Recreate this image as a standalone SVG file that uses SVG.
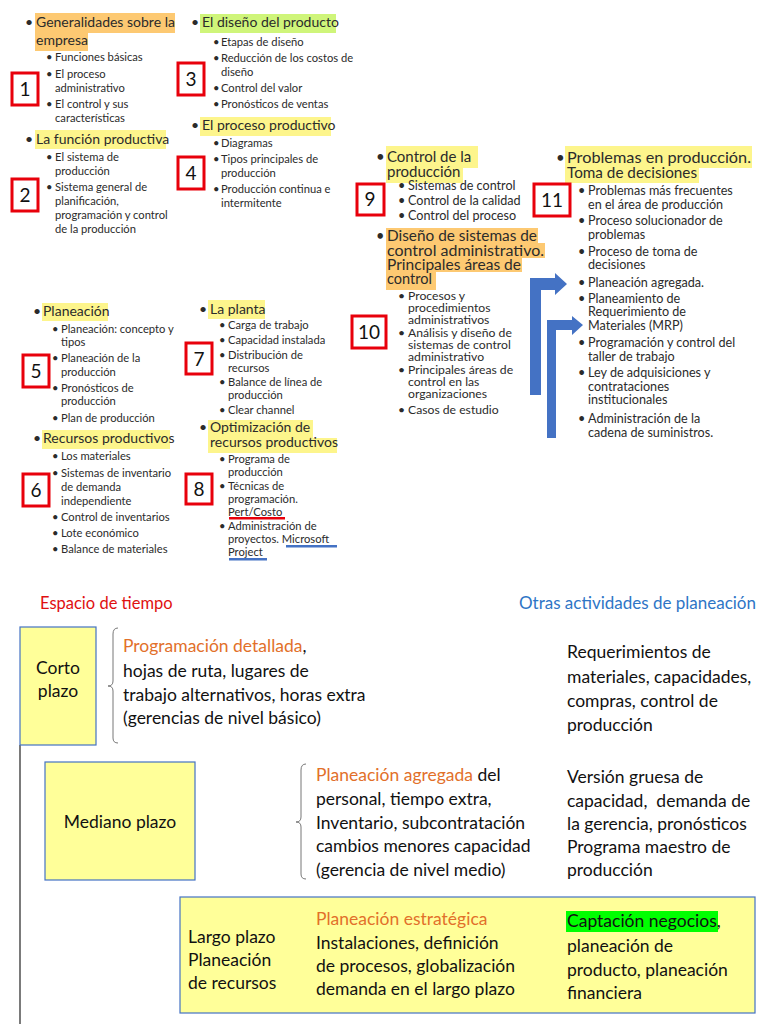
<svg xmlns="http://www.w3.org/2000/svg" width="768" height="1024" viewBox="0 0 768 1024">
<style>
text{font-family:Lato,"Liberation Sans",sans-serif;fill:#2b2b2b}
.h{font-size:14px}
.h2{font-size:15px}
.h3{font-size:14.5px}
.s{font-size:11.2px}
.s2{font-size:12.6px}
.s3{font-size:12.2px}
.bx{fill:#fff;stroke:#e8000b;stroke-width:3}
.num{font-size:19px;fill:#111;text-anchor:middle}
.hy{fill:#fdf58c}
.ho{fill:#fdc972}
.hg{fill:#cff57a}
.b{font-size:17.5px;fill:#111}
.or{fill:#e2702a}
.yb{fill:#ffff99;stroke:#4472c4;stroke-width:1.2}
.br{fill:none;stroke:#777;stroke-width:1}
.arr{fill:#4472c4}
</style>

<!-- Section 1-2 -->
<g id="sec1">
<rect class="ho" x="35" y="13" width="140" height="20"/>
<rect class="ho" x="35" y="33" width="53" height="18"/>
<text class="h" x="25" y="27">•</text>
<text class="h" x="36" y="27">Generalidades sobre la</text>
<text class="h" x="36" y="45">empresa</text>
<g class="s">
<text x="46" y="61">•</text><text x="55" y="61">Funciones básicas</text>
<text x="46" y="78">•</text><text x="55" y="78">El proceso</text>
<text x="55" y="92">administrativo</text>
<text x="46" y="108">•</text><text x="55" y="108">El control y sus</text>
<text x="55" y="122">características</text>
</g>
<rect class="bx" x="12" y="73" width="26" height="32"/>
<text class="num" x="25" y="96">1</text>
</g>
<g id="sec2">
<rect class="hy" x="35" y="130" width="131" height="19"/>
<text class="h" x="25" y="144">•</text>
<text class="h" x="36" y="144">La función productiva</text>
<g class="s">
<text x="46" y="161">•</text><text x="55" y="161">El sistema de</text>
<text x="55" y="175">producción</text>
<text x="46" y="191">•</text><text x="55" y="191">Sistema general de</text>
<text x="55" y="205">planificación,</text>
<text x="55" y="219">programación y control</text>
<text x="55" y="233">de la producción</text>
</g>
<rect class="bx" x="12" y="179" width="26" height="32"/>
<text class="num" x="25" y="202">2</text>
</g>

<!-- Section 3-4 -->
<g id="sec3">
<rect class="hg" x="200" y="14" width="136" height="19"/>
<text class="h" x="191" y="27">•</text>
<text class="h" x="202" y="27">El diseño del producto</text>
<g class="s">
<text x="213" y="46">•</text><text x="221" y="46">Etapas de diseño</text>
<text x="213" y="62">•</text><text x="221" y="62">Reducción de los costos de</text>
<text x="221" y="76">diseño</text>
<text x="213" y="92">•</text><text x="221" y="92">Control del valor</text>
<text x="213" y="108">•</text><text x="221" y="108">Pronósticos de ventas</text>
</g>
<rect class="bx" x="178" y="63" width="26" height="32"/>
<text class="num" x="191" y="86">3</text>
</g>
<g id="sec4">
<rect class="hy" x="200" y="117" width="131" height="19"/>
<text class="h" x="191" y="130">•</text>
<text class="h" x="202" y="130">El proceso productivo</text>
<g class="s">
<text x="213" y="147">•</text><text x="221" y="147">Diagramas</text>
<text x="213" y="163">•</text><text x="221" y="163">Tipos principales de</text>
<text x="221" y="177">producción</text>
<text x="213" y="193">•</text><text x="221" y="193">Producción continua e</text>
<text x="221" y="207">intermitente</text>
</g>
<rect class="bx" x="178" y="157" width="26" height="32"/>
<text class="num" x="191" y="180">4</text>
</g>

<!-- Section 9-10 -->
<g id="sec9">
<rect class="hy" x="386" y="146" width="92" height="22"/>
<rect class="hy" x="386" y="168" width="77" height="15"/>
<text class="h2" x="376" y="162">•</text>
<text class="h2" x="387" y="162">Control de la</text>
<text class="h2" x="387" y="177">producción</text>
<g class="s2">
<text x="398" y="190">•</text><text x="408" y="190">Sistemas de control</text>
<text x="398" y="205">•</text><text x="408" y="205">Control de la calidad</text>
<text x="398" y="220">•</text><text x="408" y="220">Control del proceso</text>
</g>
<rect class="bx" x="357" y="184" width="27" height="31"/>
<text class="num" x="370" y="206">9</text>
</g>
<g id="sec10">
<rect class="ho" x="386" y="228" width="152" height="15"/>
<rect class="ho" x="386" y="243" width="159" height="15"/>
<rect class="ho" x="386" y="258" width="136" height="14"/>
<rect class="ho" x="386" y="272" width="50" height="18"/>
<text class="h3" x="376" y="241">•</text>
<g class="h3">
<text x="387" y="241" textLength="150" lengthAdjust="spacingAndGlyphs">Diseño de sistemas de</text>
<text x="387" y="256" textLength="157" lengthAdjust="spacingAndGlyphs">control administrativo.</text>
<text x="387" y="270" textLength="134" lengthAdjust="spacingAndGlyphs">Principales áreas de</text>
<text x="387" y="284">control</text>
</g>
<g class="s3">
<text x="398" y="300">•</text><text x="408" y="300">Procesos y</text>
<text x="408" y="312">procedimientos</text>
<text x="408" y="324">administrativos</text>
<text x="398" y="337">•</text><text x="408" y="337">Análisis y diseño de</text>
<text x="408" y="349">sistemas de control</text>
<text x="408" y="361">administrativo</text>
<text x="398" y="374">•</text><text x="408" y="374">Principales áreas de</text>
<text x="408" y="386">control en las</text>
<text x="408" y="398">organizaciones</text>
<text x="398" y="414">•</text><text x="408" y="414">Casos de estudio</text>
</g>
<rect class="bx" x="352" y="316" width="34" height="32"/>
<text class="num" x="369" y="339">10</text>
</g>

<!-- Section 11 -->
<g id="sec11">
<rect class="hy" x="565" y="146" width="187" height="22"/>
<rect class="hy" x="565" y="168" width="134" height="15"/>
<text class="h2" x="556" y="163">•</text>
<text class="h2" x="567" y="163" textLength="184" lengthAdjust="spacingAndGlyphs">Problemas en producción.</text>
<text class="h2" x="567" y="178" textLength="130" lengthAdjust="spacingAndGlyphs">Toma de decisiones</text>
<g class="s2">
<text x="578" y="195">•</text><text x="588" y="195">Problemas más frecuentes</text>
<text x="588" y="209">en el área de producción</text>
<text x="578" y="225">•</text><text x="588" y="225">Proceso solucionador de</text>
<text x="588" y="239">problemas</text>
<text x="578" y="256">•</text><text x="588" y="256">Proceso de toma de</text>
<text x="588" y="269">decisiones</text>
<text x="578" y="287">•</text><text x="588" y="287">Planeación agregada.</text>
<text x="578" y="303">•</text><text x="588" y="303">Planeamiento de</text>
<text x="588" y="316">Requerimiento de</text>
<text x="588" y="330">Materiales (MRP)</text>
<text x="578" y="347">•</text><text x="588" y="347">Programación y control del</text>
<text x="588" y="361">taller de trabajo</text>
<text x="578" y="377">•</text><text x="588" y="377">Ley de adquisiciones y</text>
<text x="588" y="391">contrataciones</text>
<text x="588" y="404">institucionales</text>
<text x="578" y="423">•</text><text x="588" y="423">Administración de la</text>
<text x="588" y="437">cadena de suministros.</text>
</g>
<rect class="bx" x="534" y="184" width="36" height="32"/>
<text class="num" x="552" y="207">11</text>
</g>

<!-- Section 5-6 -->
<g id="sec5">
<rect class="hy" x="42" y="303" width="66" height="18"/>
<text class="h" x="33" y="316">•</text>
<text class="h" x="43" y="316">Planeación</text>
<g class="s">
<text x="52" y="333">•</text><text x="61" y="333">Planeación: concepto y</text>
<text x="61" y="346">tipos</text>
<text x="52" y="362">•</text><text x="61" y="362">Planeación de la</text>
<text x="61" y="376">producción</text>
<text x="52" y="392">•</text><text x="61" y="392">Pronósticos de</text>
<text x="61" y="405">producción</text>
<text x="52" y="422">•</text><text x="61" y="422">Plan de producción</text>
</g>
<rect class="bx" x="23" y="355" width="26" height="32"/>
<text class="num" x="36" y="378">5</text>
</g>
<g id="sec6">
<rect class="hy" x="42" y="430" width="128" height="19"/>
<text class="h" x="33" y="443">•</text>
<text class="h" x="43" y="443">Recursos productivos</text>
<g class="s">
<text x="52" y="460">•</text><text x="61" y="460">Los materiales</text>
<text x="52" y="477">•</text><text x="61" y="477">Sistemas de inventario</text>
<text x="61" y="491">de demanda</text>
<text x="61" y="505">independiente</text>
<text x="52" y="521">•</text><text x="61" y="521">Control de inventarios</text>
<text x="52" y="537">•</text><text x="61" y="537">Lote económico</text>
<text x="52" y="553">•</text><text x="61" y="553">Balance de materiales</text>
</g>
<rect class="bx" x="23" y="474" width="26" height="32"/>
<text class="num" x="36" y="497">6</text>
</g>

<!-- Section 7-8 -->
<g id="sec7">
<rect class="hy" x="208" y="300" width="57" height="19"/>
<text class="h" x="199" y="314">•</text>
<text class="h" x="210" y="314">La planta</text>
<g class="s">
<text x="219" y="329">•</text><text x="228" y="329">Carga de trabajo</text>
<text x="219" y="344">•</text><text x="228" y="344">Capacidad instalada</text>
<text x="219" y="359">•</text><text x="228" y="359">Distribución de</text>
<text x="228" y="372">recursos</text>
<text x="219" y="386">•</text><text x="228" y="386">Balance de línea de</text>
<text x="228" y="399">producción</text>
<text x="219" y="414">•</text><text x="228" y="414">Clear channel</text>
</g>
<rect class="bx" x="186" y="343" width="26" height="31"/>
<text class="num" x="199" y="366">7</text>
</g>
<g id="sec8">
<rect class="hy" x="208" y="420" width="105" height="18"/>
<rect class="hy" x="208" y="438" width="129" height="15"/>
<text class="h" x="199" y="432">•</text>
<text class="h" x="210" y="432">Optimización de</text>
<text class="h" x="210" y="447">recursos productivos</text>
<g class="s">
<text x="219" y="463">•</text><text x="228" y="463">Programa de</text>
<text x="228" y="476">producción</text>
<text x="219" y="490">•</text><text x="228" y="490">Técnicas de</text>
<text x="228" y="503">programación.</text>
<text x="228" y="516">Pert/Costo</text>
<text x="219" y="530">•</text><text x="228" y="530">Administración de</text>
<text x="228" y="543">proyectos. Microsoft</text>
<text x="228" y="556">Project</text>
</g>
<rect x="229" y="517" width="56" height="2.5" fill="#e8000b"/>
<rect x="286" y="545" width="51" height="2.5" fill="#4472c4"/>
<rect x="229" y="558" width="38" height="2.5" fill="#4472c4"/>
<rect class="bx" x="186" y="474" width="26" height="30"/>
<text class="num" x="199" y="496">8</text>
</g>

<!-- Bottom headings -->
<g id="headings">
<text x="40" y="609" style="font-size:16.5px;fill:#e01010">Espacio de tiempo</text>
<text x="756" y="609" style="font-size:17px;fill:#2e75c6;text-anchor:end">Otras actividades de planeación</text>
</g>

<!-- Connectors -->
<g id="connectors">
<path class="arr" d="M530,395 V278 H555 V273 L567,284 L555,295 V290 H541 V395 Z"/>
<path class="arr" d="M547,438 V320 H572 V316 L583,325 L572,335 V330 H556 V438 Z"/>
<line x1="20" y1="745" x2="20" y2="1024" stroke="#222" stroke-width="1.2"/>
<path class="br" d="M118,628 Q113,628 113,634 V681 Q113,686 108,686 Q113,686 113,691 V738 Q113,743 118,743"/>
<path class="br" d="M306,764 Q301,764 301,770 V817 Q301,822 296,822 Q301,822 301,827 V874 Q301,879 306,879"/>
<path class="br" d="M310,900 Q305,900 305,906 V950 Q305,955 300,955 Q305,955 305,960 V1005 Q305,1010 310,1010"/>
</g>

<!-- Corto plazo -->
<g id="corto">
<rect class="yb" x="20" y="627" width="76" height="118"/>
<text class="b" x="58" y="674" text-anchor="middle">Corto</text>
<text class="b" x="58" y="697" text-anchor="middle">plazo</text>
</g>
<g id="corto-desc">
<text class="b" x="123" y="652"><tspan class="or">Programación detallada</tspan>,</text>
<text class="b" x="123" y="677">hojas de ruta, lugares de</text>
<text class="b" x="123" y="701">trabajo alternativos, horas extra</text>
<text class="b" x="123" y="724">(gerencias de nivel básico)</text>
</g>
<g id="corto-otras">
<text class="b" x="567" y="658">Requerimientos de</text>
<text class="b" x="567" y="683">materiales, capacidades,</text>
<text class="b" x="567" y="707">compras, control de</text>
<text class="b" x="567" y="731">producción</text>
</g>

<!-- Mediano plazo -->
<g id="mediano">
<rect class="yb" x="45" y="762" width="150" height="118"/>
<text class="b" x="120" y="828" text-anchor="middle">Mediano plazo</text>
</g>
<g id="mediano-desc">
<text class="b" x="316" y="781"><tspan class="or">Planeación agregada</tspan> del</text>
<text class="b" x="316" y="805">personal, tiempo extra,</text>
<text class="b" x="316" y="829">Inventario, subcontratación</text>
<text class="b" x="316" y="852">cambios menores capacidad</text>
<text class="b" x="316" y="876">(gerencia de nivel medio)</text>
</g>
<g id="mediano-otras">
<text class="b" x="567" y="783">Versión gruesa de</text>
<text class="b" x="567" y="807" xml:space="preserve">capacidad,  demanda de</text>
<text class="b" x="567" y="830">la gerencia, pronósticos</text>
<text class="b" x="567" y="853">Programa maestro de</text>
<text class="b" x="567" y="876">producción</text>
</g>

<!-- Largo plazo -->
<g id="largo">
<rect class="yb" x="180" y="897" width="575" height="116"/>
<text class="b" x="188" y="943">Largo plazo</text>
<text class="b" x="188" y="966">Planeación</text>
<text class="b" x="188" y="989">de recursos</text>
</g>
<g id="largo-desc">
<text class="b or" x="316" y="925">Planeación estratégica</text>
<text class="b" x="316" y="949">Instalaciones, definición</text>
<text class="b" x="316" y="972">de procesos, globalización</text>
<text class="b" x="316" y="995">demanda en el largo plazo</text>
</g>
<g id="largo-otras">
<rect x="566" y="911" width="152" height="21" fill="#00ff00"/>
<text class="b" x="567" y="927">Captación negocios,</text>
<text class="b" x="567" y="952">planeación de</text>
<text class="b" x="567" y="976">producto, planeación</text>
<text class="b" x="567" y="999">financiera</text>
</g>
</svg>
